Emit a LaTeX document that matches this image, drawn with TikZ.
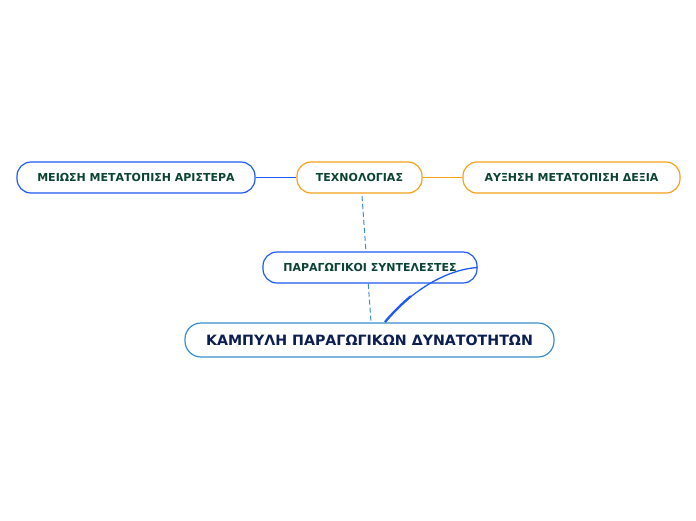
\documentclass[tikz,border=0pt]{standalone}
\usepackage{fontspec}
\setmainfont{DejaVu Sans}
\definecolor{bleu}{HTML}{1E5AF5}
\definecolor{orangevif}{HTML}{F7A21B}
\definecolor{bleuclair}{HTML}{3A8DD0}
\definecolor{vertfonce}{HTML}{0B4531}
\definecolor{marine}{HTML}{0C1F52}
\begin{document}
\begin{tikzpicture}[x=1pt,y=-1pt,
        bulle/.style={draw,line width=1.2pt,rounded corners=14pt,minimum height=31pt,
            inner sep=0pt,fill=white,text=vertfonce,font=\bfseries\fontsize{11}{13}\selectfont},
        racine/.style={bulle,draw=bleuclair,minimum height=34pt,rounded corners=16pt,
            text=marine,font=\bfseries\fontsize{14.2}{16}\selectfont},
        lien/.style={line width=1.5pt}]
        % Cadre
        \useasboundingbox (0,0) rectangle (696,520);

        % Liens
        \coordinate (d1) at (362,196);
        \coordinate (d2) at (371,322);
        \draw[bleuclair,line width=1pt,dash pattern=on 5pt off 3pt] (d1) -- (d2);

        % Racine
        \node[racine,minimum width=369pt] (courbe) at (369.5,340) {ΚΑΜΠΥΛΗ ΠΑΡΑΓΩΓΙΚΩΝ ΔΥΝΑΤΟΤΗΤΩΝ};

        % Branches
        \node[bulle,draw=bleu,minimum width=214pt] (facteurs) at (370,267.5) {ΠΑΡΑΓΩΓΙΚΟΙ ΣΥΝΤΕΛΕΣΤΕΣ};
        \node[bulle,draw=orangevif,minimum width=125pt] (techno) at (359.5,177.5) {ΤΕΧΝΟΛΟΓΙΑΣ};
        \node[bulle,draw=bleu,minimum width=238pt] (gauche) at (136,177.5) {ΜΕΙΩΣΗ ΜΕΤΑΤΟΠΙΣΗ ΑΡΙΣΤΕΡΑ};
        \node[bulle,draw=orangevif,minimum width=217pt] (droite) at (571.5,177.5) {ΑΥΞΗΣΗ ΜΕΤΑΤΟΠΙΣΗ ΔΕΞΙΑ};

        \draw[lien,draw=bleu] (gauche.east) -- (techno.west);
        \draw[lien,draw=orangevif] (techno.east) -- (droite.west);

        % Courbe vers les facteurs (plus epaisse au depart)
        \coordinate (c0) at (385,322);
        \draw[bleu,line width=1.3pt] (c0) .. controls (405,298) and (440,270) .. (facteurs.east);
        \draw[bleu,line width=2.3pt] (c0) .. controls (392,313.6) and (400.84,304.71) .. (410.96,296.07);
\end{tikzpicture}
\end{document}
